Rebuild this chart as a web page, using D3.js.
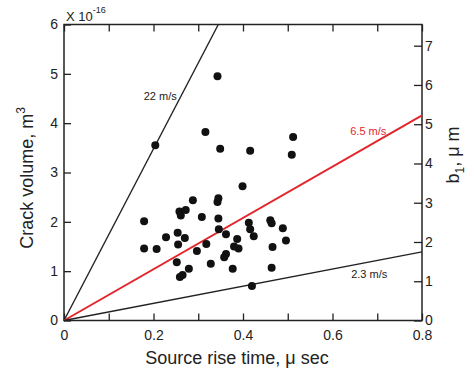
<!DOCTYPE html>
<html>
<head>
<meta charset="utf-8">
<script src="https://cdn.jsdelivr.net/npm/d3@7"></script>
<style>
  body { margin: 0; background: #fff; }
  svg text { font-family: "Liberation Sans", Arial, sans-serif; fill: #222; }
</style>
</head>
<body>
<div class="canvas"></div>
<script>
// rise time (μs) and crack volume (x1e-16 m^3)
const riseTime = [
  0.204, 0.343, 0.316, 0.349, 0.416, 0.512, 0.509, 0.399, 0.288, 0.345,
  0.343, 0.258, 0.272, 0.261, 0.179, 0.308, 0.345, 0.413, 0.461, 0.464,
  0.489, 0.416, 0.424, 0.346, 0.362, 0.254, 0.228, 0.270, 0.255, 0.387,
  0.496, 0.380, 0.390, 0.318, 0.179, 0.207, 0.297, 0.466, 0.362, 0.358,
  0.252, 0.328, 0.279, 0.377, 0.464, 0.265, 0.259, 0.420
];
const crackVolume = [
  3.55, 4.95, 3.82, 3.48, 3.44, 3.72, 3.36, 2.72, 2.44, 2.48,
  2.40, 2.21, 2.24, 2.13, 2.01, 2.10, 2.07, 1.98, 2.03, 1.97,
  1.87, 1.85, 1.71, 1.85, 1.75, 1.78, 1.69, 1.67, 1.54, 1.65,
  1.62, 1.50, 1.46, 1.55, 1.46, 1.45, 1.41, 1.49, 1.35, 1.28,
  1.18, 1.15, 1.05, 1.05, 1.07, 0.92, 0.88, 0.70
];

// velocity lines through the origin: label and slope (volume per μs)
const lineLabels = ["22 m/s", "6.5 m/s", "2.3 m/s"];
const lineSlopes = [17.4, 5.2, 1.74];

const xTicks = [0, 0.1, 0.2, 0.3, 0.4, 0.5, 0.6, 0.7, 0.8];
const yTicks = [0, 1, 2, 3, 4, 5, 6];
const bTicks = [0, 1, 2, 3, 4, 5, 6, 7];

const margin = { top: 24.5, right: 52, bottom: 53.5, left: 64 };
const W = 474, H = 374;
const w = W - margin.left - margin.right;
const h = H - margin.top - margin.bottom;

const svg = d3.select(".canvas").append("svg")
  .attr("width", W)
  .attr("height", H);

const g = svg.append("g")
  .attr("transform", `translate(${margin.left},${margin.top})`);

const x = d3.scaleLinear().domain([0, 0.8]).range([0, w]);
const y = d3.scaleLinear().domain([0, 6]).range([h, 0]);
const yB = d3.scaleLinear().domain([0, 7.54]).range([h, 0]);

// axes, ticks pointing inward; only every other x tick is labelled
const fmtX = d => (Math.round(d * 10) % 2 === 0 ? String(+d.toFixed(1)) : "");

g.append("g")
  .attr("transform", `translate(0,${h})`)
  .call(d3.axisBottom(x).tickValues(xTicks).tickSize(-7).tickPadding(10).tickFormat(fmtX));

g.append("g")
  .call(d3.axisTop(x).tickValues(xTicks).tickSize(-7).tickFormat(""));

g.append("g")
  .call(d3.axisLeft(y).tickValues(yTicks).tickSize(-7).tickPadding(6).tickFormat(d3.format("d")));

g.append("g")
  .attr("transform", `translate(${w},0)`)
  .call(d3.axisRight(yB).tickValues(bTicks).tickSize(-8).tickPadding(3).tickFormat(d3.format("d")));

g.selectAll(".domain").remove();
g.selectAll(".tick line").attr("stroke", "#222").attr("stroke-width", 1.3);
g.selectAll(".tick text")
  .style("font-size", "14px")
  .style("font-family", "Liberation Sans, Arial, sans-serif")
  .attr("fill", "#222");

g.append("rect")
  .attr("width", w)
  .attr("height", h)
  .attr("fill", "none")
  .attr("stroke", "#222")
  .attr("stroke-width", 1.5);

// velocity lines
const lineColors = ["#222", "#e3262b", "#222"];
lineSlopes.forEach((s, i) => {
  const xEnd = Math.min(0.8, 6 / s);
  g.append("line")
    .attr("x1", x(0)).attr("y1", y(0))
    .attr("x2", x(xEnd)).attr("y2", y(s * xEnd))
    .attr("stroke", lineColors[i])
    .attr("stroke-width", i === 1 ? 2 : 1.4);
});

// line labels
const labelPos = [[0.215, 4.47, "#222"], [0.68, 3.76, "#e3262b"], [0.682, 0.86, "#222"]];
lineLabels.forEach((t, i) => {
  g.append("text")
    .attr("x", x(labelPos[i][0]))
    .attr("y", y(labelPos[i][1]))
    .attr("text-anchor", "middle")
    .style("font-size", "11px")
    .style("fill", labelPos[i][2])
    .text(t);
});

// points
g.selectAll("circle")
  .data(riseTime.map((t, i) => [t, crackVolume[i]]))
  .join("circle")
  .attr("cx", d => x(d[0]))
  .attr("cy", d => y(d[1]))
  .attr("r", 4)
  .attr("fill", "#111");

// multiplier
const mult = svg.append("text").attr("x", 66).attr("y", 21).style("font-size", "13px");
mult.append("tspan").text("X 10");
mult.append("tspan").attr("dy", -8).style("font-size", "9px").text("-16");

// axis titles
svg.append("text")
  .attr("x", 237)
  .attr("y", 364)
  .attr("text-anchor", "middle")
  .style("font-size", "18px")
  .text("Source rise time, \u03bc sec");

const yt = svg.append("text")
  .attr("transform", "translate(33,178) rotate(-90)")
  .attr("text-anchor", "middle")
  .style("font-size", "18px");
yt.append("tspan").text("Crack volume,  m");
yt.append("tspan").attr("dy", -8).style("font-size", "12px").text("3");

const bt = svg.append("text")
  .attr("transform", "translate(459,155) rotate(-90)")
  .attr("text-anchor", "middle")
  .style("font-size", "18px");
bt.append("tspan").text("b");
bt.append("tspan").attr("dy", 5).style("font-size", "12px").text("1");
bt.append("tspan").attr("dy", -5).text(",  \u03bc m");
</script>
</body>
</html>
